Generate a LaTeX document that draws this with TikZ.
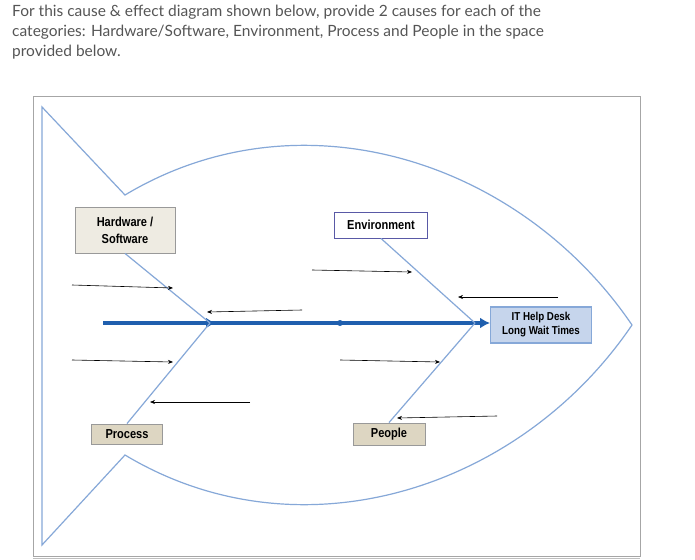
\documentclass[tikz,border=0pt]{standalone}
\usepackage{fontspec}
\setmainfont{Lato}
\setsansfont{Liberation Sans}
\newfontfamily\narrowf[FakeStretch=0.85]{Liberation Sans}
\usetikzlibrary{arrows.meta}
\definecolor{fishc}{HTML}{86A8D8}
\definecolor{spinec}{HTML}{1F5FAE}
\definecolor{titlec}{HTML}{555555}
\definecolor{hwfill}{HTML}{EEEBE2}
\definecolor{tanfill}{HTML}{DDD6C2}
\definecolor{efffill}{HTML}{C6D5EC}
\tikzset{
  fish/.style={draw=fishc, line width=1.2pt},
  cause/.style={draw=black, line width=0.6pt, -{Stealth[length=5pt,width=4pt]}},
  catbox/.style={draw=gray!80, line width=0.9pt, font=\narrowf\bfseries\fontsize{13}{17}\selectfont, align=center, inner sep=3pt}
}
\begin{document}
\begin{tikzpicture}[x=1pt,y=-1pt]
\useasboundingbox (0,0) rectangle (695,559);
\node[anchor=north west, align=left, text=titlec, font=\fontsize{15.5}{20}\selectfont, inner sep=0] (title) at (12,5)
 {For this cause \& effect diagram shown below, provide 2 causes for each of the\\categories: Hardware/Software, Environment, Process and People in the space\\provided below.};
\draw[gray!70, fill=white, line width=1pt] (33,97) rectangle (640,556);
\draw[gray!50] (33,558) -- (640,558);
% fish
\draw[fish] (42,107) -- (125,195) .. controls (300,90) and (520,160) .. (632,325)
  .. controls (520,490) and (300,560) .. (125,455) -- (42,545) -- cycle;
\fill[white] (213,196) rectangle (320,446);
% spine
\coordinate (tailpt) at (103,323);
\coordinate (mid) at (210,323);
\coordinate (head) at (475,323);
\draw[draw=spinec, line width=3.5pt] (tailpt) -- (head);
\draw[spinec, -{Latex[length=10pt,width=11pt]}, line width=3.5pt] (450,323) -- (490,323);
\fill[spinec] (mid) +(-4,-5) -- +(4,0) -- +(-4,5) -- cycle;
\fill[spinec] (340,323) circle (3);
% boxes
\node[catbox, fill=hwfill, minimum width=100pt, minimum height=46pt] (hw) at (125,230) {Hardware /\\Software};
\node[catbox, fill=white, draw=gray!70!blue, minimum width=93pt, minimum height=26pt] (env) at (381,225) {Environment};
\node[catbox, fill=tanfill, minimum width=71pt, minimum height=20pt] (proc) at (127,434) {Process};
\node[catbox, fill=tanfill, minimum width=72pt, minimum height=22pt] (ppl) at (389,434) {People};
\node[draw=fishc, fill=efffill, line width=1.2pt, font=\narrowf\bfseries\fontsize{11.5}{14}\selectfont, align=center, minimum width=101pt, minimum height=36pt, inner sep=1pt] (eff) at (541,325) {IT Help Desk\\Long Wait Times};
% bones
\draw[fish] (hw.south) -- (mid);
\draw[fish] (proc.north) -- (mid);
\draw[fish] (env.south) -- (head);
\draw[fish] (ppl.north) -- (head);
% cause arrows
\coordinate (a1) at (72,285); \coordinate (b1) at (173,288);
\coordinate (a2) at (302,310); \coordinate (b2) at (207,312);
\coordinate (a3) at (312,270); \coordinate (b3) at (412,272);
\coordinate (a4) at (558,297); \coordinate (b4) at (458,297);
\coordinate (a5) at (72,360); \coordinate (b5) at (173,362);
\coordinate (a6) at (250,402); \coordinate (b6) at (150,402);
\coordinate (a7) at (340,360); \coordinate (b7) at (440,362);
\coordinate (a8) at (497,416); \coordinate (b8) at (397,418);
\foreach \i in {1,...,8} \draw[cause] (a\i) -- (b\i);
\end{tikzpicture}
\end{document}
